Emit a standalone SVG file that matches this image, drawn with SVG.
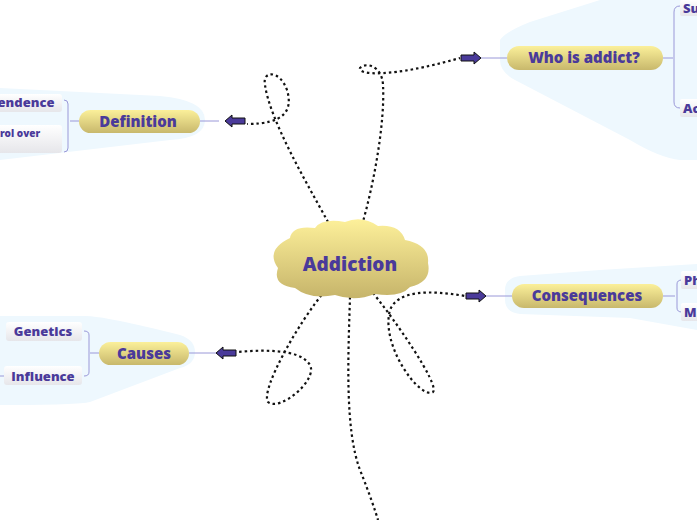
<svg xmlns="http://www.w3.org/2000/svg" width="697" height="520" viewBox="0 0 697 520">
<defs>
<linearGradient id="pill" x1="0" y1="0" x2="0" y2="1"><stop offset="0" stop-color="#fbf09a"/><stop offset="1" stop-color="#c8b86c"/></linearGradient>
<linearGradient id="cloud" x1="0" y1="0" x2="0" y2="1"><stop offset="0" stop-color="#fdf09a"/><stop offset="1" stop-color="#c6b46a"/></linearGradient>
<linearGradient id="sub" x1="0" y1="0" x2="0" y2="1"><stop offset="0" stop-color="#ffffff"/><stop offset="1" stop-color="#e6e6ea"/></linearGradient>
</defs>
<style>
.halo{fill:#eef8fe}
.pill{fill:url(#pill)}
.t{font-family:"Open Sans","DejaVu Sans",sans-serif;font-weight:800;fill:#4a3a9a;text-anchor:middle}
.m{font-size:15px}
.s{font-size:13px}
.sub{fill:url(#sub)}
.br{fill:none;stroke:#9a98d8;stroke-width:1}
.dot{fill:none;stroke:#111;stroke-width:2.2;stroke-dasharray:2.5 3}
.arr{fill:#4a3a9a;stroke:#111;stroke-width:1}
</style>
<rect width="697" height="520" fill="#fff"/>
<g id="connectors">
<path class="dot" d="M328,222 C305,180 270,120 265,85 C262,70 280,70 287,90 C293,110 285,124 247,124"/>
<path class="dot" d="M362,225 C375,180 385,120 383,85 C382,65 365,62 360,68 C358,75 390,78 460,58"/>
<path class="dot" d="M373,293 C395,320 440,385 433,392 C420,400 380,345 390,310 C398,290 430,290 465,296"/>
<path class="dot" d="M325,291 C300,320 260,390 268,402 C280,412 318,380 310,365 C300,348 260,350 237,352"/>
<path class="dot" d="M350,297 C348,360 345,430 360,470 C370,495 375,510 378,520"/>
</g>
<g id="definition">
<path class="halo" d="M0,88 L160,96 Q205,100 205,120 Q205,138 170,140 L0,160 Z"/>
<path class="br" d="M200,121 H219 M79,121 H70 M64,100 Q68,100 68,104 V148 Q68,152 64,152"/>
<rect class="sub" x="-10" y="94" width="72" height="18" rx="3"/>
<text class="t s" x="26" y="107">endence</text>
<rect class="sub" x="-10" y="125" width="72" height="28" rx="3"/>
<text class="t" style="font-size:10px" x="20" y="137">rol over</text>
<rect class="pill" x="79" y="110" width="121" height="23" rx="11.5"/>
<text class="t m" x="138" y="127">Definition</text>
<path class="arr" d="M225,121 L232,115 V118 H245 V124 H232 V127 Z"/>
</g>
<g id="who">
<path class="halo" d="M500,40 Q505,32 530,22 L600,0 H697 V160 L680,160 Q660,158 630,140 L515,80 Q500,72 500,60 Z"/>
<path class="br" d="M481,58 H507 M663,58 H673 M680,6 Q674,6 674,12 V102 Q674,108 680,108"/>
<rect class="sub" x="680" y="0" width="20" height="16" rx="2"/>
<text class="t s" x="690" y="13" style="text-anchor:start" transform="translate(-7,0)">Su</text>
<rect class="sub" x="680" y="99" width="20" height="18" rx="2"/>
<text class="t s" x="683" y="113" style="text-anchor:start">Ac</text>
<rect class="pill" x="507" y="46" width="156" height="24" rx="12"/>
<text class="t m" x="584" y="63">Who is addict?</text>
<path class="arr" d="M481,58 L474,52 V55 H461 V61 H474 V64 Z"/>
</g>
<g id="consequences">
<path class="halo" d="M505,290 Q505,278 520,276 L600,270 L697,264 V330 L630,318 L520,314 Q505,312 505,300 Z"/>
<path class="br" d="M486,296 H512 M663,296 H675 M682,280 Q677,280 677,284 V308 Q677,312 682,312"/>
<rect class="sub" x="681" y="271" width="20" height="18" rx="2"/>
<text class="t s" x="684" y="285" style="text-anchor:start">Ph</text>
<rect class="sub" x="681" y="303" width="20" height="18" rx="2"/>
<text class="t s" x="684" y="317" style="text-anchor:start">M</text>
<rect class="pill" x="512" y="284" width="151" height="24" rx="12"/>
<text class="t m" x="587" y="301">Consequences</text>
<path class="arr" d="M486,296 L479,290 V293 H466 V299 H479 V302 Z"/>
</g>
<g id="causes">
<path class="halo" d="M0,316 L85,316 Q105,316 180,335 Q195,340 195,352 Q195,364 180,368 L90,402 Q80,405 0,405 Z"/>
<path class="br" d="M189,353 H216 M99,353 H90 M84,331 Q89,331 89,335 V372 Q89,376 84,376 M0,376 H4"/>
<rect class="sub" x="6" y="322" width="76" height="19" rx="3"/>
<text class="t s" x="43" y="336">Genetics</text>
<rect class="sub" x="4" y="366" width="78" height="19" rx="3"/>
<text class="t s" x="43" y="381">Influence</text>
<rect class="pill" x="99" y="342" width="90" height="23" rx="11.5"/>
<text class="t m" x="144" y="359">Causes</text>
<path class="arr" d="M216,353 L223,347 V350 H236 V356 H223 V359 Z"/>
</g>
<g id="addiction">
<path fill="url(#cloud)" d="M290,238 Q292,225 315,228 Q322,218 345,222 Q362,215 378,226 Q400,224 405,240 Q430,245 428,263 Q432,282 410,287 Q400,298 375,294 Q355,302 335,295 Q310,300 295,288 Q272,285 278,268 Q265,250 290,238 Z"/>
<text class="t" style="font-size:19px;font-family:'Comic Sans MS','Open Sans',sans-serif" x="350" y="271">Addiction</text>
</g>
</svg>
